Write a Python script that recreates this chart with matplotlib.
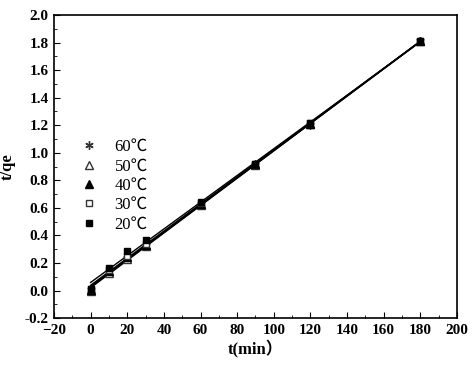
import numpy as np
import matplotlib.pyplot as plt
from matplotlib.ticker import MultipleLocator

plt.rcParams['font.family'] = ['Liberation Serif', 'Noto Sans CJK SC', 'DejaVu Sans']

# sampling times (min)
t = [0, 10, 20, 30, 60, 90, 120, 180]

# t/qe for each temperature
y60 = [0.005, 0.135, 0.235, 0.325, 0.625, 0.910, 1.205, 1.810]
y50 = [0.000, 0.130, 0.230, 0.320, 0.620, 0.910, 1.210, 1.810]
y40 = [0.005, 0.140, 0.240, 0.330, 0.630, 0.915, 1.210, 1.810]
y30 = [0.010, 0.150, 0.250, 0.335, 0.635, 0.920, 1.215, 1.810]
y20 = [0.010, 0.165, 0.290, 0.370, 0.640, 0.920, 1.215, 1.810]

labels = ['60℃', '50℃', '40℃', '30℃', '20℃']
values = [y60, y50, y40, y30, y20]
styles = [
    dict(marker=(6, 2, 0), mfc='none', mec='#333333', ms=6),
    dict(marker='^', mfc='white', mec='#333333', ms=6),
    dict(marker='^', mfc='black', mec='black', ms=6),
    dict(marker='s', mfc='white', mec='#333333', ms=5),
    dict(marker='s', mfc='black', mec='black', ms=5),
]

fig = plt.figure(figsize=(4.74, 3.66), dpi=100)
ax = fig.add_axes([0.114, 0.131, 0.85, 0.828])

# fitted lines first
for y in values:
    k, b = np.polyfit(t, y, 1)
    xx = np.array([t[0], t[-1]])
    ax.plot(xx, k * xx + b, color='black', lw=1.0, zorder=2)

for label, y, style in zip(labels, values, styles):
    ax.plot(t, y, ls='none', label=label, zorder=3, **style)

ax.set_xlim(-20, 200)
ax.set_ylim(-0.2, 2.0)
ax.xaxis.set_major_locator(MultipleLocator(20))
ax.xaxis.set_minor_locator(MultipleLocator(10))
ax.yaxis.set_major_locator(MultipleLocator(0.2))
ax.yaxis.set_minor_locator(MultipleLocator(0.1))
ax.yaxis.set_major_formatter(plt.FuncFormatter(lambda v, p: f'{v:.1f}'))
ax.tick_params(which='both', direction='in', top=False, right=False)
ax.tick_params(which='major', length=4, labelsize=11, pad=4)
ax.tick_params(which='minor', length=2)
for lab in ax.get_xticklabels() + ax.get_yticklabels():
    lab.set_fontweight('bold')
for s in ax.spines.values():
    s.set_linewidth(1.2)

ax.set_xlabel('t(min）', fontsize=12, fontweight='bold', labelpad=2)
ax.set_ylabel('t/qe', fontsize=12, fontweight='bold', labelpad=6)

ax.legend(loc='upper left', bbox_to_anchor=(0.03, 0.64), frameon=False,
          fontsize=12, handlelength=1.0, handletextpad=1.0, labelspacing=0.2)

fig.savefig('out.png', dpi=100)
